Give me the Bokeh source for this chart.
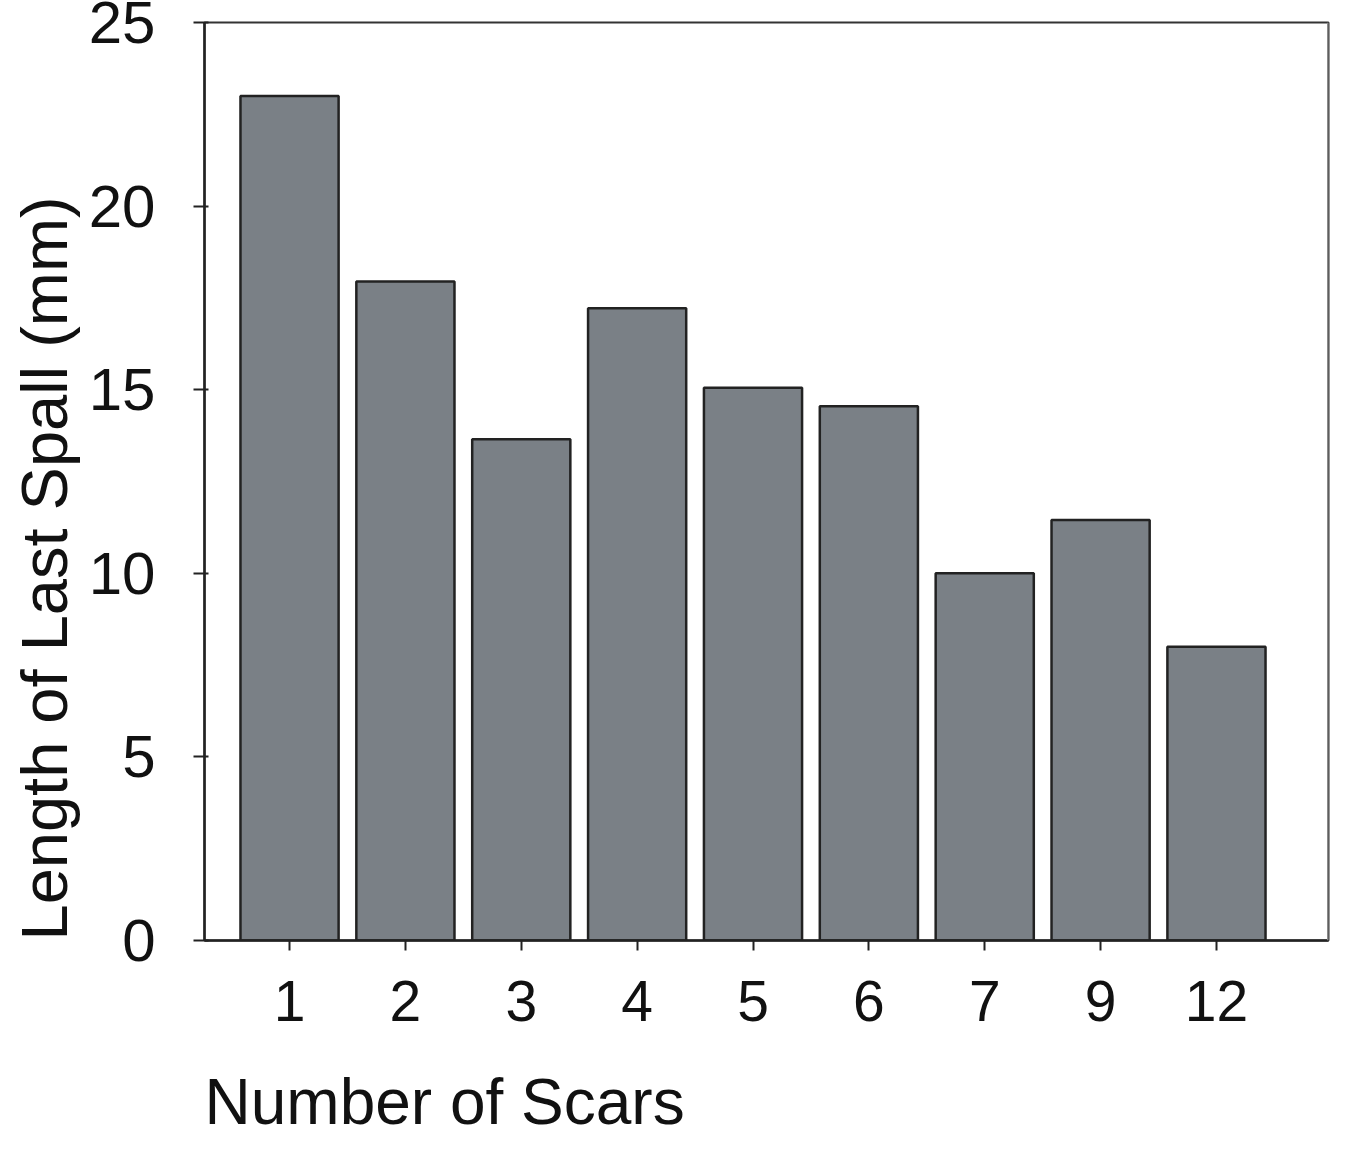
from bokeh.plotting import figure
from bokeh.models import Range1d, FixedTicker, Title, Span, ColumnDataSource
from bokeh.embed import file_html
from bokeh.resources import INLINE

categories = ["1", "2", "3", "4", "5", "6", "7", "9", "12"]
lengths = [23.0, 17.95, 13.65, 17.22, 15.05, 14.55, 10.0, 11.45, 8.0]
y_ticks = [0, 5, 10, 15, 20, 25]

FONT = "Liberation Sans"
positions = list(range(len(categories)))
src = ColumnDataSource(data=dict(x=positions, top=lengths, cat=categories))

p = figure(frame_width=1124, frame_height=918, output_backend="svg", toolbar_location=None,
           x_range=Range1d(-0.734, 8.967), y_range=Range1d(0, 25),
           min_border_left=200, min_border_top=22, min_border_right=16, min_border_bottom=12,
           background_fill_color="white", border_fill_color="white")

p.vbar(x="x", top="top", width=0.847, bottom=0, source=src,
       fill_color="#7a8086", line_color="#222222", line_width=2.5)

p.xgrid.visible = False
p.ygrid.visible = False
p.outline_line_color = "#333333"
p.outline_line_width = 2

# axes
xa = p.xaxis[0]
xa.ticker = FixedTicker(ticks=positions)
xa.major_label_overrides = {i: c for i, c in enumerate(categories)}
xa.major_tick_out = 10
xa.major_tick_in = 0
xa.minor_tick_out = 0
xa.minor_tick_in = 0
xa.axis_line_width = 2.5
xa.axis_line_color = "#222222"
xa.major_tick_line_width = 2
xa.major_tick_line_color = "#222222"
xa.major_label_text_font = FONT
xa.major_label_text_font_size = "57px"
xa.major_label_text_color = "#111111"
xa.major_label_standoff = 30

ya = p.yaxis[0]
ya.ticker = FixedTicker(ticks=y_ticks)
ya.major_tick_out = 11
ya.major_tick_in = 4
ya.minor_tick_out = 0
ya.minor_tick_in = 0
ya.axis_line_width = 2.5
ya.axis_line_color = "#222222"
ya.major_tick_line_width = 2
ya.major_tick_line_color = "#222222"
ya.major_label_text_font = FONT
ya.major_label_text_font_size = "60px"
ya.major_label_text_color = "#111111"
ya.major_label_standoff = 38

p.add_layout(Span(location=8.967, dimension="height", line_color="#8a8a8a", line_width=3))

ytitle = Title(text="Length of Last Spall (mm)", align="left", text_font=FONT,
               text_font_size="65px", text_font_style="normal", text_color="#111111")
p.add_layout(ytitle, "left")

xtitle = Title(text="Number of Scars", align="left", text_font=FONT,
               text_font_size="64px", text_font_style="normal", text_color="#111111",
               standoff=80)
p.add_layout(xtitle, "below")

open("out.html", "w").write(file_html(p, INLINE))
